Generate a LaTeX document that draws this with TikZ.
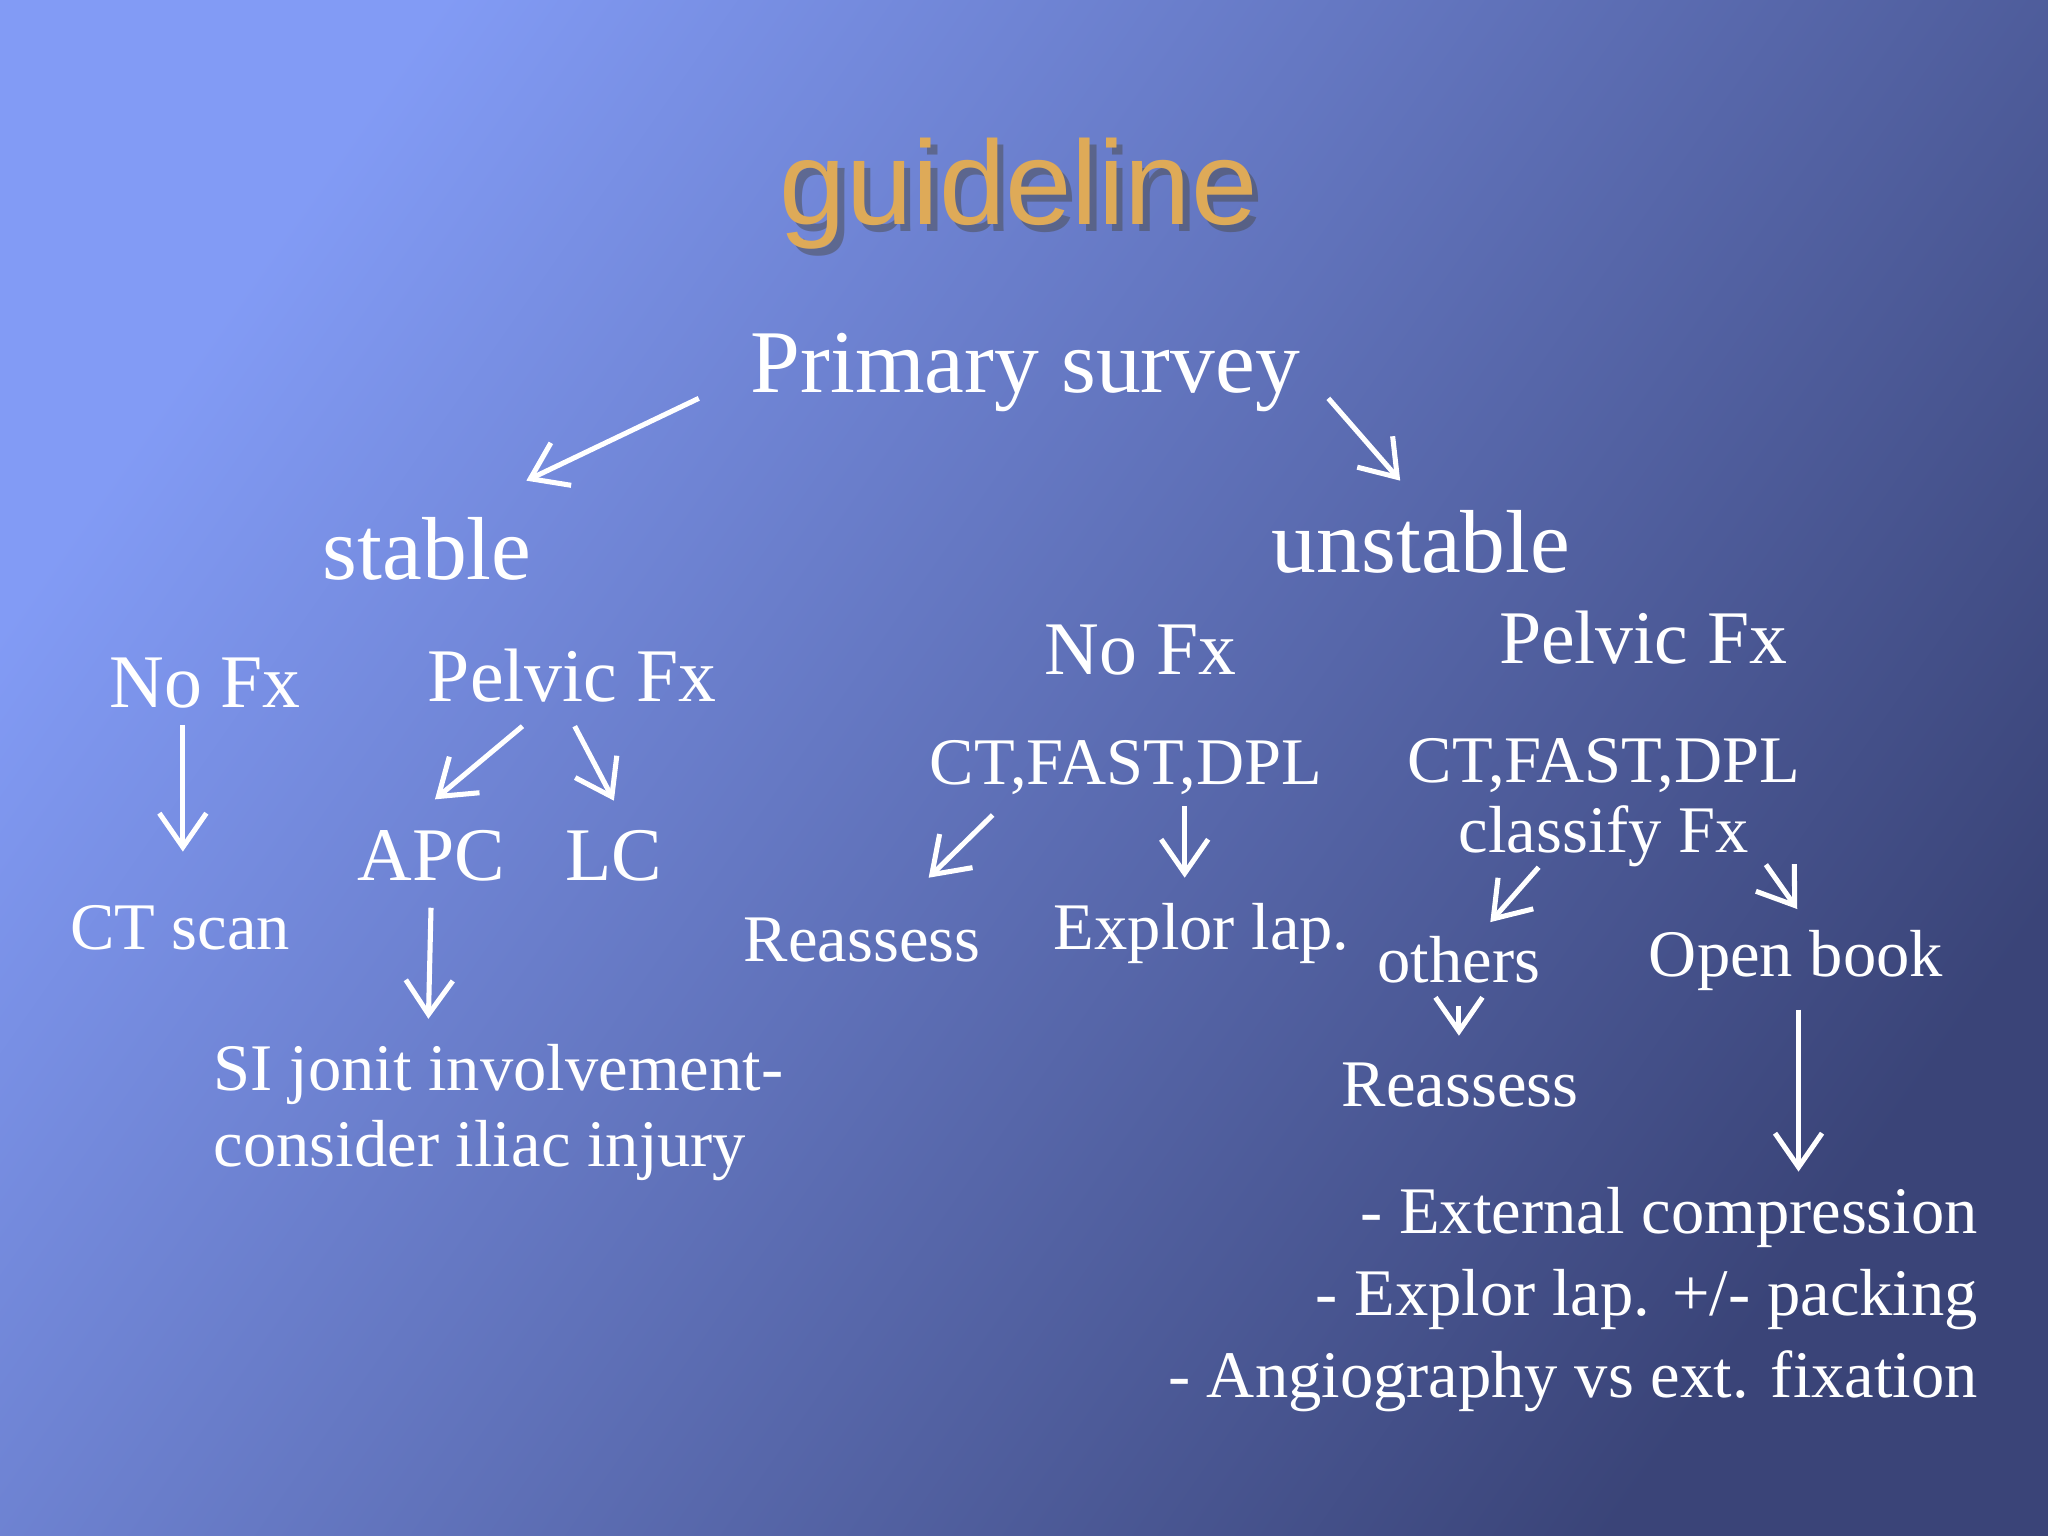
\documentclass[tikz,border=0pt]{standalone}
\usepackage{fontspec}
\setmainfont{Liberation Serif}
\newfontfamily\titlefont{Liberation Sans}
\usetikzlibrary{arrows.meta}
\definecolor{bgA}{RGB}{130,155,245}
\definecolor{bgC}{RGB}{58,68,120}
\definecolor{ttl}{RGB}{222,170,88}
\tikzset{
  t/.style={text=white,inner sep=0pt,font=\fontsize{#1}{#1}\selectfont},
  ar/.style={draw=white,line width=1.1pt,-{Straight Barb[length=2.6mm,width=3.6mm]}}
}
\begin{document}
\begin{tikzpicture}[x=1cm,y=-1cm]
\useasboundingbox (0,0) rectangle (15.68,11.76);
\shade[left color=bgA,right color=bgC,shading angle=55] (0,0) rectangle (15.68,11.76);
\node[inner sep=0pt,text=black!70,opacity=0.5,font=\titlefont\fontsize{26}{26}\selectfont] at (7.85,1.54) {guideline};
\node[inner sep=0pt,text=ttl,font=\titlefont\fontsize{26}{26}\selectfont] (title) at (7.8,1.48) {guideline};
\node[t=19.5] (ps) at (7.85,2.85) {Primary survey};
\node[t=19.5] (st) at (3.27,4.2) {stable};
\node[t=19.5] (un) at (10.88,4.15) {unstable};
\node[t=16.5] (nf1) at (1.57,5.23) {No Fx};
\node[t=16.5] (pf1) at (4.38,5.17) {Pelvic Fx};
\node[t=16.5] (apc) at (3.3,6.55) {APC};
\node[t=16.5] (lc) at (4.7,6.55) {LC};
\node[t=14.5] (cts) at (1.38,7.1) {CT scan};
\node[t=14.5,align=left,anchor=west] (si) at (1.63,8.52) {SI jonit involvement-\\[0.07cm]consider iliac injury};
\node[t=16.5] (nf2) at (8.73,4.98) {No Fx};
\node[t=16.5] (pf2) at (12.58,4.88) {Pelvic Fx};
\node[t=14.5] (ct2) at (8.62,5.88) {CT,FAST,DPL};
\node[t=14.5] (re1) at (6.6,7.2) {Reassess};
\node[t=14.5] (el) at (9.2,7.15) {Explor lap.};
\node[t=14.5] (ct3) at (12.28,5.86) {CT,FAST,DPL};
\node[t=14.5] (cf) at (12.28,6.4) {classify Fx};
\node[t=14.5] (oth) at (11.17,7.35) {others};
\node[t=14.5] (ob) at (13.75,7.35) {Open book};
\node[t=14.5] (re2) at (11.18,8.31) {Reassess};
\node[t=14.5,align=right,anchor=east] (bl) at (15.15,9.95) {- External compression\\[0.12cm]- Explor lap. +/- packing\\[0.12cm]- Angiography vs ext. fixation\hspace{0.1cm}};
\foreach \n/\a/\b in {a/{5.35,3.05}/{4.03,3.68}, b/{10.17,3.05}/{10.72,3.68}, c/{1.4,5.55}/{1.4,6.52}, d/{4.0,5.56}/{3.33,6.12}, e/{4.4,5.56}/{4.7,6.13}, f/{3.3,6.95}/{3.28,7.8}, g/{7.6,6.24}/{7.11,6.72}, h/{9.07,6.17}/{9.07,6.72}, i/{11.78,6.64}/{11.41,7.06}, j/{13.52,6.62}/{13.76,6.96}, k/{11.17,7.7}/{11.17,7.93}, l/{13.77,7.73}/{13.77,8.97}}
  {\coordinate (\n s) at (\a); \coordinate (\n e) at (\b); \draw[ar] (\n s) -- (\n e);}
\end{tikzpicture}
\end{document}
